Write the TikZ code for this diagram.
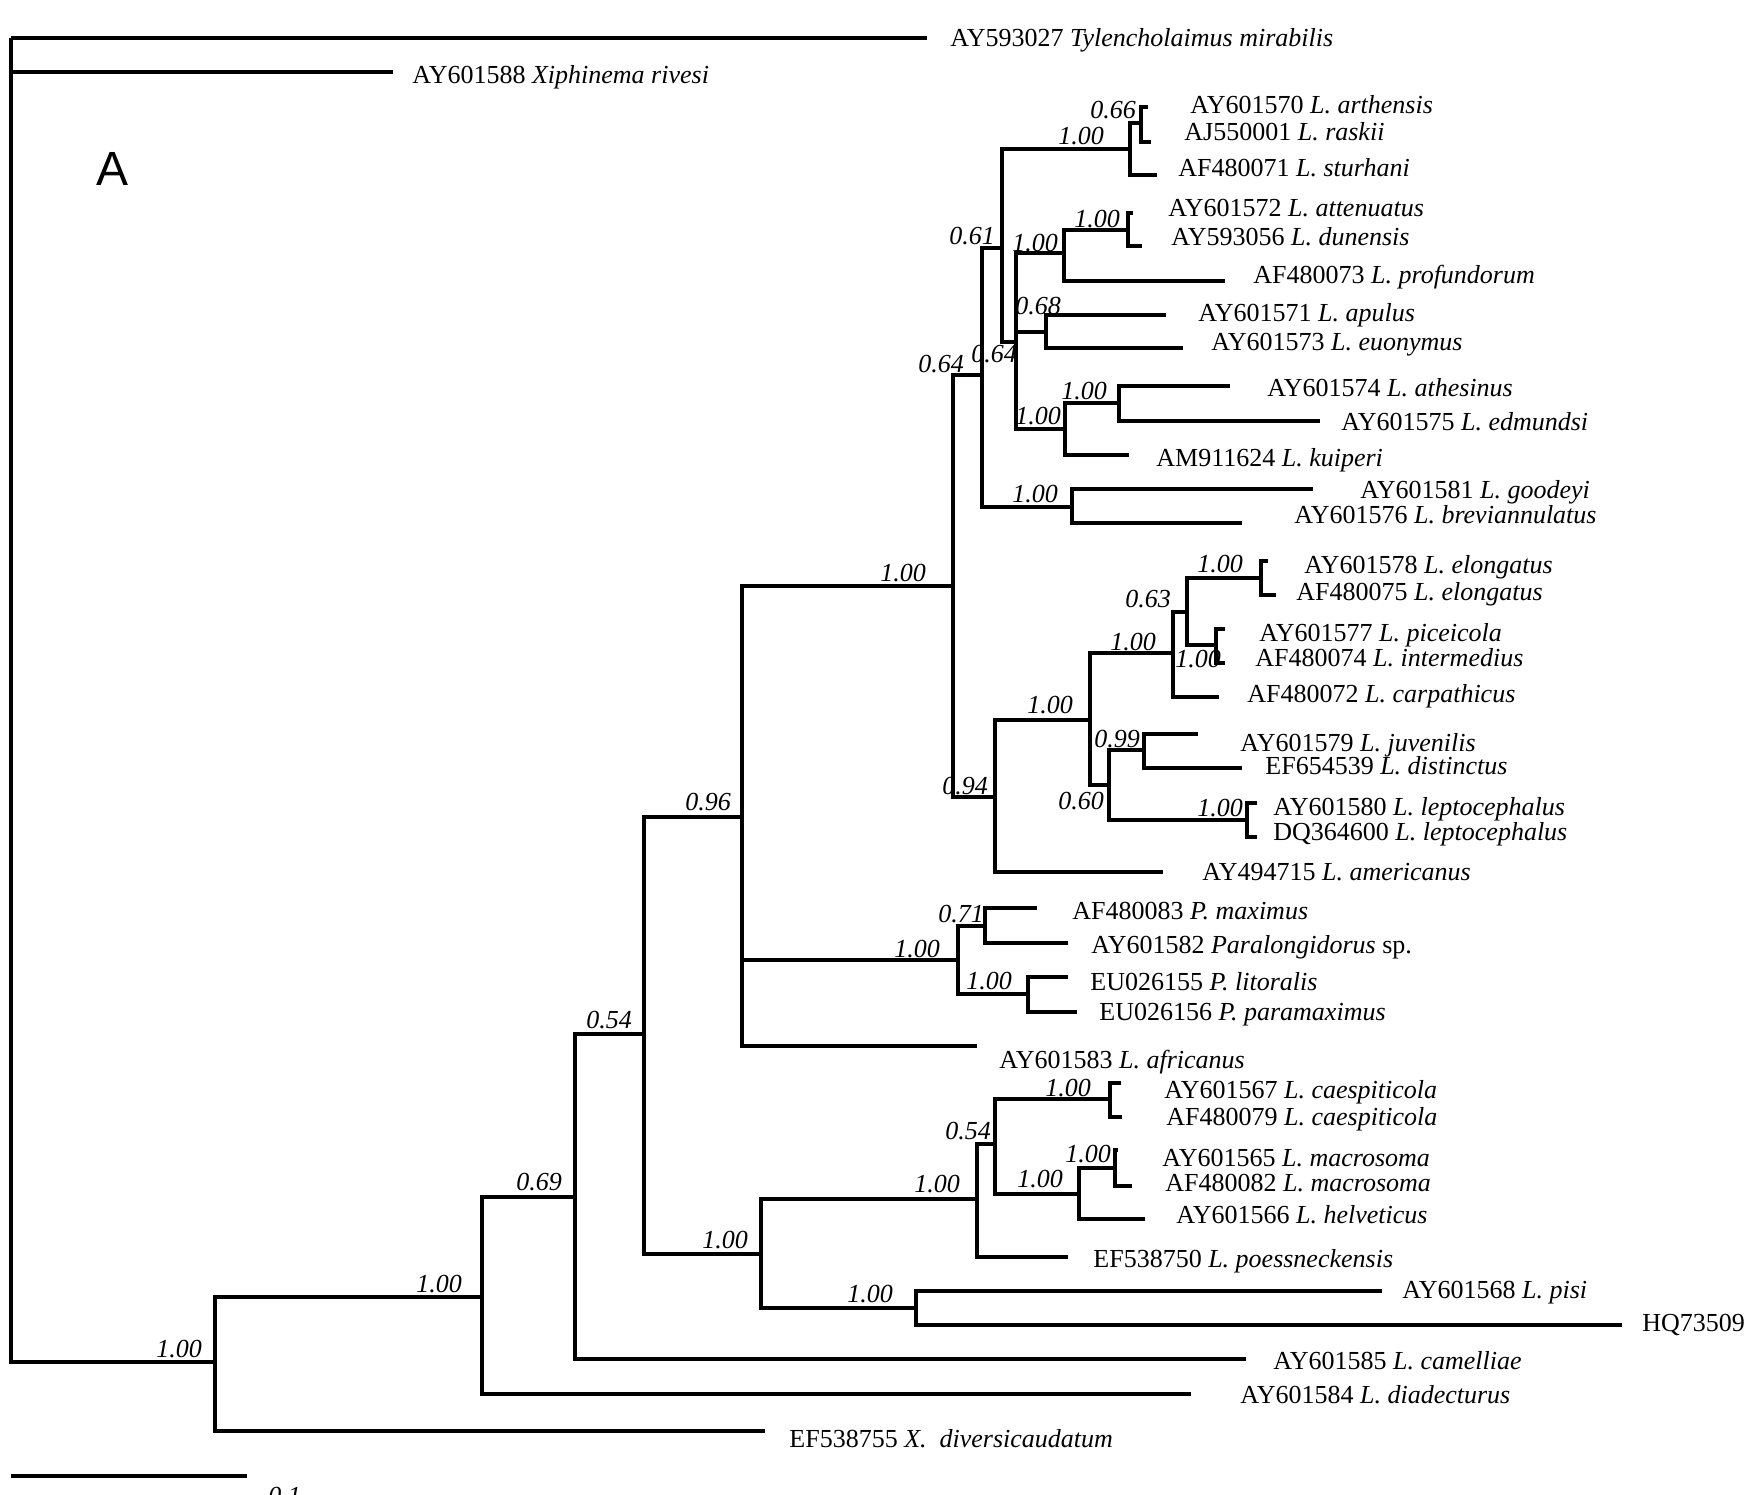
\documentclass[tikz,border=0pt]{standalone}
\usepackage{fontspec}
\setmainfont{Liberation Serif}
\setsansfont{Liberation Sans}
\newcommand\tiplab[4]{\node[tip] (#1) at (#2,{#3+8.5}) {#4};}
\newcommand\bslab[4]{\node[bs] (#1) at (#2,#3) {#4};}
\begin{document}
\begin{tikzpicture}[x=0.5pt,y=-0.5pt,
  br/.style={line width=1.6pt},
  tip/.style={anchor=base west, inner sep=0pt, font=\fontsize{13}{15}\selectfont},
  bs/.style={anchor=base west, inner sep=0pt, font=\fontsize{13}{15}\selectfont\itshape}]
\useasboundingbox (0,0) rectangle (1748,1494);
% internal nodes and tips
\coordinate (R) at (11,38);
\coordinate (tTyl) at (927,38);
\coordinate (tXip) at (393,72);
\coordinate (N1) at (215,1362);
\coordinate (tDiv) at (765,1431);
\coordinate (N2) at (482,1297);
\coordinate (tDia) at (1191,1394);
\coordinate (N3) at (575,1197);
\coordinate (tCam) at (1246,1359);
\coordinate (N4) at (644,1034);
\coordinate (N5) at (742,817);
\coordinate (N9) at (761,1254);
\coordinate (N6) at (953,586);
\coordinate (N14) at (958,960);
\coordinate (tAfr) at (977,1046);
\coordinate (N7) at (982,375);
\coordinate (N15) at (995,797);
\coordinate (N8) at (1002,248);
\coordinate (N24) at (1072,507);
\coordinate (A1) at (1130,149);
\coordinate (N20) at (1016,342);
\coordinate (A2) at (1141,123);
\coordinate (tStu) at (1157,175);
\coordinate (tArt) at (1148,107);
\coordinate (tRas) at (1151,142);
\coordinate (N21) at (1064,253);
\coordinate (Nap) at (1046,332);
\coordinate (N22) at (1065,429);
\coordinate (Natt) at (1128,230);
\coordinate (tPro) at (1225,281);
\coordinate (tAtt) at (1133,213);
\coordinate (tDun) at (1142,246);
\coordinate (tApu) at (1166,315);
\coordinate (tEuo) at (1183,348);
\coordinate (N23) at (1119,403);
\coordinate (tKui) at (1129,455);
\coordinate (tAth) at (1230,386);
\coordinate (tEdm) at (1320,421);
\coordinate (tGoo) at (1313,489);
\coordinate (tBre) at (1242,523);
\coordinate (N16) at (1090,720);
\coordinate (tAme) at (1163,872);
\coordinate (N17) at (1173,653);
\coordinate (N19) at (1109,785);
\coordinate (N18) at (1187,612);
\coordinate (tCar) at (1219,697);
\coordinate (Nelo) at (1261,578);
\coordinate (Npic) at (1216,645);
\coordinate (tElo1) at (1268,561);
\coordinate (tElo2) at (1276,595);
\coordinate (tPic) at (1225,629);
\coordinate (tInt) at (1225,663);
\coordinate (N099) at (1144,750);
\coordinate (Nlep) at (1247,820);
\coordinate (tJuv) at (1198,734);
\coordinate (tDis) at (1242,768);
\coordinate (tLep1) at (1257,803);
\coordinate (tLep2) at (1257,837);
\coordinate (N071) at (985,926);
\coordinate (Nlit) at (1028,994);
\coordinate (tMax) at (1037,908);
\coordinate (tPar) at (1068,943);
\coordinate (tLit) at (1068,977);
\coordinate (tPam) at (1077,1012);
\coordinate (N11) at (977,1199);
\coordinate (N10) at (916,1308);
\coordinate (tPis) at (1382,1291);
\coordinate (tHQ) at (1622,1325);
\coordinate (N12) at (995,1144);
\coordinate (tPoe) at (1068,1257);
\coordinate (Ncae) at (1110,1099);
\coordinate (N13) at (1079,1194);
\coordinate (tCae1) at (1121,1083);
\coordinate (tCae2) at (1122,1117);
\coordinate (Nmac) at (1115,1168);
\coordinate (tHel) at (1145,1219);
\coordinate (tMac1) at (1118,1150);
\coordinate (tMac2) at (1132,1186);
\coordinate (s1) at (11,1476);
\coordinate (s2) at (247,1476);
% branches
\draw[br] (R) |- (tTyl) (R) |- (tXip) (R) |- (N1)
 (N1) |- (N2) (N1) |- (tDiv)
 (N2) |- (N3) (N2) |- (tDia)
 (N3) |- (N4) (N3) |- (tCam)
 (N4) |- (N5) (N4) |- (N9)
 (N5) |- (N6) (N5) |- (N14) (N5) |- (tAfr)
 (N6) |- (N7) (N6) |- (N15)
 (N7) |- (N8) (N7) |- (N24)
 (N8) |- (A1) (N8) |- (N20)
 (A1) |- (A2) (A1) |- (tStu)
 (A2) |- (tArt) (A2) |- (tRas)
 (N20) |- (N21) (N20) |- (Nap) (N20) |- (N22)
 (N21) |- (Natt) (N21) |- (tPro)
 (Natt) |- (tAtt) (Natt) |- (tDun)
 (Nap) |- (tApu) (Nap) |- (tEuo)
 (N22) |- (N23) (N22) |- (tKui)
 (N23) |- (tAth) (N23) |- (tEdm)
 (N24) |- (tGoo) (N24) |- (tBre)
 (N15) |- (N16) (N15) |- (tAme)
 (N16) |- (N17) (N16) |- (N19)
 (N17) |- (N18) (N17) |- (tCar)
 (N18) |- (Nelo) (N18) |- (Npic)
 (Nelo) |- (tElo1) (Nelo) |- (tElo2)
 (Npic) |- (tPic) (Npic) |- (tInt)
 (N19) |- (N099) (N19) |- (Nlep)
 (N099) |- (tJuv) (N099) |- (tDis)
 (Nlep) |- (tLep1) (Nlep) |- (tLep2)
 (N14) |- (N071) (N14) |- (Nlit)
 (N071) |- (tMax) (N071) |- (tPar)
 (Nlit) |- (tLit) (Nlit) |- (tPam)
 (N9) |- (N11) (N9) |- (N10)
 (N10) |- (tPis) (N10) |- (tHQ)
 (N11) |- (N12) (N11) |- (tPoe)
 (N12) |- (Ncae) (N12) |- (N13)
 (Ncae) |- (tCae1) (Ncae) |- (tCae2)
 (N13) |- (Nmac) (N13) |- (tHel)
 (Nmac) |- (tMac1) (Nmac) |- (tMac2);
\draw[br] (s1) -- (s2);
% panel letter
\node[anchor=base, inner sep=0pt, font=\sffamily\fontsize{24}{28}\selectfont] (lblA) at (112.5,185) {A};
% tip labels
\tiplab{lTyl}{950}{38}{AY593027 \textit{Tylencholaimus mirabilis}}
\tiplab{lXip}{412}{75}{AY601588 \textit{Xiphinema rivesi}}
\tiplab{lArt}{1190}{105}{AY601570 \textit{L. arthensis}}
\tiplab{lRas}{1184}{132}{AJ550001 \textit{L. raskii}}
\tiplab{lStu}{1178}{168}{AF480071 \textit{L. sturhani}}
\tiplab{lAtt}{1168}{208}{AY601572 \textit{L. attenuatus}}
\tiplab{lDun}{1171}{237}{AY593056 \textit{L. dunensis}}
\tiplab{lPro}{1253}{275}{AF480073 \textit{L. profundorum}}
\tiplab{lApu}{1198}{313}{AY601571 \textit{L. apulus}}
\tiplab{lEuo}{1211}{342}{AY601573 \textit{L. euonymus}}
\tiplab{lAth}{1267}{388}{AY601574 \textit{L. athesinus}}
\tiplab{lEdm}{1341}{422}{AY601575 \textit{L. edmundsi}}
\tiplab{lKui}{1156}{458}{AM911624 \textit{L. kuiperi}}
\tiplab{lGoo}{1360}{490}{AY601581 \textit{L. goodeyi}}
\tiplab{lBre}{1294}{515}{AY601576 \textit{L. breviannulatus}}
\tiplab{lElo1}{1304}{565}{AY601578 \textit{L. elongatus}}
\tiplab{lElo2}{1296}{592}{AF480075 \textit{L. elongatus}}
\tiplab{lPic}{1259}{633}{AY601577 \textit{L. piceicola}}
\tiplab{lInt}{1255}{658}{AF480074 \textit{L. intermedius}}
\tiplab{lCar}{1247}{694}{AF480072 \textit{L. carpathicus}}
\tiplab{lJuv}{1240}{743}{AY601579 \textit{L. juvenilis}}
\tiplab{lDis}{1265}{766}{EF654539 \textit{L. distinctus}}
\tiplab{lLep1}{1273}{807}{AY601580 \textit{L. leptocephalus}}
\tiplab{lLep2}{1273}{832}{DQ364600 \textit{L. leptocephalus}}
\tiplab{lAme}{1202}{872}{AY494715 \textit{L. americanus}}
\tiplab{lMax}{1072}{911}{AF480083 \textit{P. maximus}}
\tiplab{lPar}{1091}{945}{AY601582 \textit{Paralongidorus} sp.}
\tiplab{lLit}{1090}{982}{EU026155 \textit{P. litoralis}}
\tiplab{lPam}{1099}{1012}{EU026156 \textit{P. paramaximus}}
\tiplab{lAfr}{999}{1060}{AY601583 \textit{L. africanus}}
\tiplab{lCae1}{1164}{1090}{AY601567 \textit{L. caespiticola}}
\tiplab{lCae2}{1166}{1117}{AF480079 \textit{L. caespiticola}}
\tiplab{lMac1}{1162}{1158}{AY601565 \textit{L. macrosoma}}
\tiplab{lMac2}{1165}{1183}{AF480082 \textit{L. macrosoma}}
\tiplab{lHel}{1176}{1215}{AY601566 \textit{L. helveticus}}
\tiplab{lPoe}{1093}{1259}{EF538750 \textit{L. poessneckensis}}
\tiplab{lPis}{1402}{1290}{AY601568 \textit{L. pisi}}
\tiplab{lHQ}{1642}{1323}{HQ73509}
\tiplab{lCam}{1273}{1361}{AY601585 \textit{L. camelliae}}
\tiplab{lDia}{1240}{1395}{AY601584 \textit{L. diadecturus}}
\tiplab{lDiv}{789}{1439}{EF538755 \textit{X.}\ \ \textit{diversicaudatum}}
% support values
\bslab{bR}{156}{1357}{1.00}
\bslab{bN1}{416}{1292}{1.00}
\bslab{bN2}{516}{1190}{0.69}
\bslab{bN3}{586}{1028}{0.54}
\bslab{bN4a}{685}{810}{0.96}
\bslab{bN4b}{702}{1248}{1.00}
\bslab{bN5a}{880}{581}{1.00}
\bslab{bN5b}{894}{957}{1.00}
\bslab{bN6a}{918}{372}{0.64}
\bslab{bN6b}{942}{794}{0.94}
\bslab{bN7a}{949}{244}{0.61}
\bslab{bN7b}{1012}{502}{1.00}
\bslab{bN8a}{1058}{144}{1.00}
\bslab{bN8b}{971}{362}{0.64}
\bslab{bA1}{1090}{118}{0.66}
\bslab{bN20a}{1012}{251}{1.00}
\bslab{bN21}{1074}{227}{1.00}
\bslab{bN20b}{1015}{314}{0.68}
\bslab{bN20c}{1015}{424}{1.00}
\bslab{bN22}{1061}{399}{1.00}
\bslab{bN15}{1027}{713}{1.00}
\bslab{bN16a}{1110}{650}{1.00}
\bslab{bN17}{1125}{607}{0.63}
\bslab{bN18a}{1197}{572}{1.00}
\bslab{bN18b}{1175}{667}{1.00}
\bslab{bN19a}{1094}{747}{0.99}
\bslab{bN16b}{1058}{809}{0.60}
\bslab{bN19b}{1197}{816}{1.00}
\bslab{bN14a}{938}{922}{0.71}
\bslab{bN14b}{966}{989}{1.00}
\bslab{bN9a}{914}{1192}{1.00}
\bslab{bN9b}{847}{1302}{1.00}
\bslab{bN11}{945}{1139}{0.54}
\bslab{bN12a}{1045}{1096}{1.00}
\bslab{bN12b}{1017}{1187}{1.00}
\bslab{bN13}{1065}{1162}{1.00}
\bslab{bScale}{268}{1504}{0.1}
\end{tikzpicture}
\end{document}
